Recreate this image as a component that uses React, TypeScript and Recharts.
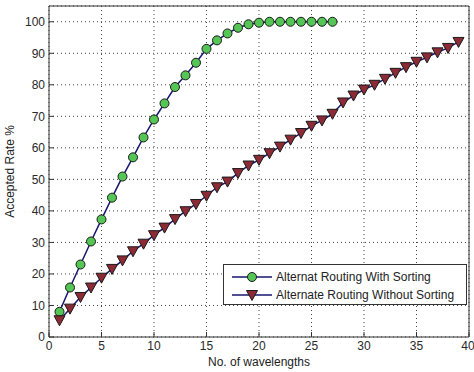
import {
  LineChart,
  Line,
  XAxis,
  YAxis,
  CartesianGrid,
  Legend,
} from "recharts";

const wavelengthsSorted = [1, 2, 3, 4, 5, 6, 7, 8, 9, 10, 11, 12, 13, 14, 15, 16, 17, 18, 19, 20, 21, 22, 23, 24, 25, 26, 27];
const withSorting = [8, 15.7, 23, 30.3, 37.3, 44.2, 50.9, 57, 63.3, 69, 74.1, 79.3, 83, 87, 91.4, 94.1, 96.3, 98.1, 99.2, 99.7, 100, 100, 100, 100, 100, 100, 100];

const wavelengthsUnsorted = [1, 2, 3, 4, 5, 6, 7, 8, 9, 10, 11, 12, 13, 14, 15, 16, 17, 18, 19, 20, 21, 22, 23, 24, 25, 26, 27, 28, 29, 30, 31, 32, 33, 34, 35, 36, 37, 38, 39];
const withoutSorting = [5.3, 9, 12.7, 15.7, 18.8, 21.6, 24.3, 27.2, 29.6, 32.3, 34.7, 37.4, 39.9, 42.2, 44.8, 47.5, 49.3, 52, 54.4, 56.2, 58.3, 60.4, 62.6, 64.7, 67, 68.7, 70.8, 74.4, 76.6, 78.5, 80, 81.9, 83.8, 85.6, 87.3, 88.7, 90.3, 91.7, 93.6];

const xTicks = [0, 5, 10, 15, 20, 25, 30, 35, 40];
const yTicks = [0, 10, 20, 30, 40, 50, 60, 70, 80, 90, 100];

const sortedData = wavelengthsSorted.map((w, i) => ({ w, rate: withSorting[i] }));
const unsortedData = wavelengthsUnsorted.map((w, i) => ({ w, rate: withoutSorting[i] }));

const LINE_COLOR = "#16166e";
const GREEN = "#55c655";
const RED = "#8c2a36";
const FONT = "'Liberation Sans', Arial, sans-serif";
const tickStyle = { fontSize: 12, fill: "#2a2a2a", fontFamily: FONT };

function Triangle(props: any) {
  const { cx, cy } = props;
  if (cx == null || cy == null) return null;
  return (
    <path
      d={`M${cx - 5.5},${cy - 4.5} L${cx + 5.5},${cy - 4.5} L${cx},${cy + 5.5} Z`}
      fill={RED}
      stroke="#1a1a1a"
      strokeWidth={1}
    />
  );
}

function LegendBox() {
  const rows = [
    { label: "Alternat Routing With Sorting", kind: "circle" },
    { label: "Alternate Routing Without Sorting", kind: "tri" },
  ];
  return (
    <div
      style={{
        border: "1px solid #333",
        background: "#fff",
        width: 242,
        height: 39,
        boxSizing: "content-box",
        fontFamily: FONT,
        fontSize: 12,
        color: "#222",
      }}
    >
      {rows.map((r, i) => (
        <div key={i} style={{ display: "flex", alignItems: "center", height: 18, marginTop: i === 0 ? 3 : 0 }}>
          <svg width={48} height={18} style={{ marginLeft: 4 }}>
            <line x1={4} y1={9} x2={44} y2={9} stroke={LINE_COLOR} strokeWidth={1.5} />
            {r.kind === "circle" ? (
              <circle cx={24} cy={9} r={4.5} fill={GREEN} stroke="#1a1a1a" strokeWidth={1} />
            ) : (
              <path d="M18.5,4.5 L29.5,4.5 L24,14.5 Z" fill={RED} stroke="#1a1a1a" strokeWidth={1} />
            )}
          </svg>
          <span style={{ whiteSpace: "nowrap" }}>{r.label}</span>
        </div>
      ))}
    </div>
  );
}

export default function App() {
  return (
    <div style={{ position: "absolute", left: 0, top: 0, background: "#fff" }}>
      <LineChart width={474} height={372} margin={{ top: 0, right: 0, bottom: 0, left: 0 }}>
        <CartesianGrid stroke="#444" strokeDasharray="1 3" />
        <XAxis
          type="number"
          dataKey="w"
          domain={[0, 40]}
          ticks={xTicks}
          height={35}
          tickSize={-5}
          tickMargin={9}
          tick={tickStyle}
          stroke="#333"
          allowDuplicatedCategory={false}
          label={(p: any) => (
            <text
              x={p.viewBox.x + p.viewBox.width / 2}
              y={366}
              textAnchor="middle"
              fontSize={12}
              fontFamily={FONT}
              fill="#222"
            >
              No. of wavelengths
            </text>
          )}
        />
        <XAxis
          xAxisId="top"
          orientation="top"
          type="number"
          dataKey="w"
          domain={[0, 40]}
          ticks={xTicks}
          height={6}
          tickSize={-5}
          tick={false}
          stroke="#333"
        />
        <YAxis
          type="number"
          domain={[0, 105]}
          ticks={yTicks}
          width={49}
          tickSize={-5}
          tickMargin={9}
          tick={tickStyle}
          stroke="#333"
          label={(p: any) => {
            const cx = 10;
            const cy = p.viewBox.y + p.viewBox.height / 2;
            return (
              <text
                x={cx}
                y={cy}
                transform={`rotate(-90, ${cx}, ${cy})`}
                textAnchor="middle"
                dominantBaseline="central"
                fontSize={12}
                fontFamily={FONT}
                fill="#222"
              >
                Accepted Rate %
              </text>
            );
          }}
        />
        <YAxis
          yAxisId="right"
          orientation="right"
          type="number"
          domain={[0, 105]}
          ticks={yTicks}
          width={5}
          tickSize={-5}
          tick={false}
          stroke="#333"
        />
        <Legend
          layout="vertical"
          align="center"
          verticalAlign="middle"
          wrapperStyle={{ left: 223, top: 264, width: 244, height: 41 }}
          content={() => <LegendBox />}
        />
        <Line
          data={sortedData}
          dataKey="rate"
          type="linear"
          stroke={LINE_COLOR}
          strokeWidth={1.5}
          dot={{ r: 4.5, fill: GREEN, stroke: "#1a1a1a", strokeWidth: 1 }}
          activeDot={false}
          isAnimationActive={false}
        />
        <Line
          data={unsortedData}
          dataKey="rate"
          type="linear"
          stroke={LINE_COLOR}
          strokeWidth={1.5}
          dot={<Triangle />}
          activeDot={false}
          isAnimationActive={false}
        />
      </LineChart>
    </div>
  );
}
